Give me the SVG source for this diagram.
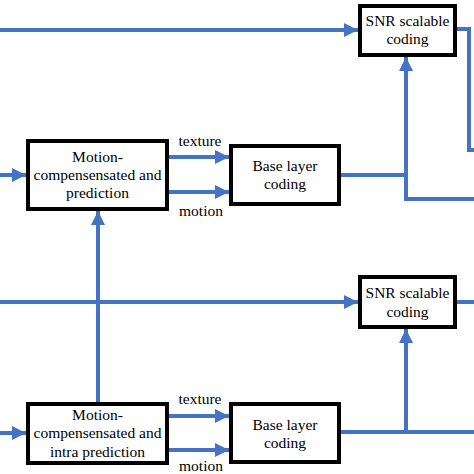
<svg xmlns="http://www.w3.org/2000/svg" width="474" height="474" viewBox="0 0 474 474">
<defs>
<marker id="ah" markerWidth="4" markerHeight="4" refX="3.6" refY="2" orient="auto" markerUnits="strokeWidth" viewBox="0 0 4 4">
<path d="M0,0.2 L3.6,2 L0,3.8 Z" fill="#4472C4"/>
</marker>
<style>
.box{fill:#fff;stroke:#000;stroke-width:4}
.c{fill:none;stroke:#4472C4;stroke-width:4}
.a{marker-end:url(#ah)}
.t{font-family:Liberation Serif,serif;font-size:15.5px;fill:#000;text-anchor:middle}
</style>
</defs>
<rect width="474" height="474" fill="#fff"/>
<g id="connectors">
<line class="c a" x1="0" y1="30" x2="358" y2="30"/>
<polyline class="c" points="455,29 469,29 469,150 474,150"/>
<line class="c a" x1="406" y1="175" x2="406" y2="57"/>
<polyline class="c" points="339,175 406,175 406,199 474,199"/>
<line class="c a" x1="0" y1="175" x2="26" y2="175"/>
<line class="c a" x1="167" y1="157" x2="229" y2="157"/>
<line class="c a" x1="167" y1="192" x2="229" y2="192"/>
<line class="c a" x1="98" y1="403" x2="98" y2="211"/>
<line class="c a" x1="0" y1="302" x2="358" y2="302"/>
<line class="c" x1="455" y1="302" x2="474" y2="302"/>
<line class="c a" x1="406" y1="432" x2="406" y2="329"/>
<line class="c" x1="339" y1="432" x2="474" y2="432"/>
<line class="c a" x1="0" y1="433" x2="26" y2="433"/>
<line class="c a" x1="167" y1="416" x2="229" y2="416"/>
<line class="c a" x1="167" y1="450" x2="229" y2="450"/>
</g>
<g id="snr1">
<rect class="box" x="360" y="6" width="95" height="49"/>
<text class="t" font-family="Liberation Serif" x="407.5" y="26">SNR scalable</text>
<text class="t" font-family="Liberation Serif" x="407.5" y="44">coding</text>
</g>
<g id="mc1">
<rect class="box" x="28" y="141" width="139" height="68"/>
<text class="t" font-family="Liberation Serif" x="97.5" y="162">Motion-</text>
<text class="t" font-family="Liberation Serif" x="97.5" y="180">compensensated and</text>
<text class="t" font-family="Liberation Serif" x="97.5" y="198">prediction</text>
</g>
<g id="base1">
<rect class="box" x="231" y="146" width="108" height="58"/>
<text class="t" font-family="Liberation Serif" x="285" y="171">Base layer</text>
<text class="t" font-family="Liberation Serif" x="285" y="189">coding</text>
</g>
<g id="snr2">
<rect class="box" x="360" y="277" width="95" height="50"/>
<text class="t" font-family="Liberation Serif" x="407.5" y="298">SNR scalable</text>
<text class="t" font-family="Liberation Serif" x="407.5" y="317">coding</text>
</g>
<g id="mc2">
<rect class="box" x="28" y="404" width="139" height="59"/>
<text class="t" font-family="Liberation Serif" x="97.5" y="420">Motion-</text>
<text class="t" font-family="Liberation Serif" x="97.5" y="438">compensensated and</text>
<text class="t" font-family="Liberation Serif" x="97.5" y="457">intra prediction</text>
</g>
<g id="base2">
<rect class="box" x="231" y="404" width="108" height="58"/>
<text class="t" font-family="Liberation Serif" x="285" y="430">Base layer</text>
<text class="t" font-family="Liberation Serif" x="285" y="448">coding</text>
</g>
<g id="labels">
<text class="t" font-family="Liberation Serif" x="200" y="146">texture</text>
<text class="t" font-family="Liberation Serif" x="201" y="216">motion</text>
<text class="t" font-family="Liberation Serif" x="200" y="404">texture</text>
<text class="t" font-family="Liberation Serif" x="201" y="471">motion</text>
</g>
</svg>
